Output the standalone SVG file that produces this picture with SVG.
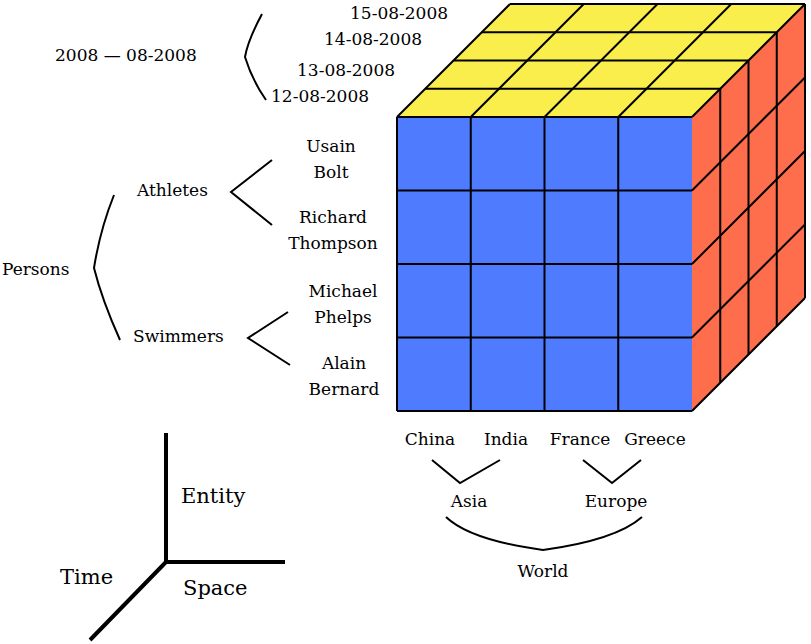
<svg xmlns="http://www.w3.org/2000/svg" width="811" height="644" viewBox="0 0 811 644">
<style>
text{font-family:"DejaVu Serif","Liberation Serif",serif;font-size:17px;fill:#000}
.c{text-anchor:middle}
.big{font-size:21px}
.g{stroke:#000;stroke-width:2;fill:none}
.br{stroke:#000;stroke-width:2;fill:none}
</style>
<rect width="811" height="644" fill="#fff"/>
<g id="cube">
<polygon points="397,117 692,117 805,4 510,4" fill="#F9EE4C"/>
<polygon points="692,117 805,4 805,298 692,411" fill="#FF6E4C"/>
<rect x="397" y="117" width="295" height="294" fill="#4F7BFF"/>
<g class="g">
<path d="M397,117H692M425.25,88.75H720.25M453.5,60.5H748.5M481.75,32.25H776.75M510,4H805"/>
<path d="M397,117L510,4M470.75,117L583.75,4M544.5,117L657.5,4M618.25,117L731.25,4M692,117L805,4"/>
<path d="M397,117V411M470.75,117V411M544.5,117V411M618.25,117V411"/>
<path d="M397,190.5H692M397,264H692M397,337.5H692M397,411H692"/>
<path d="M720.25,88.75V382.75M748.5,60.5V354.5M776.75,32.25V326.25M805,4V298"/>
<path d="M692,190.5L805,77.5M692,264L805,151M692,337.5L805,224.5M692,411L805,298"/>
</g>
</g>
<g id="time-labels">
<text x="350" y="19">15-08-2008</text>
<text x="324" y="45">14-08-2008</text>
<text x="297" y="76">13-08-2008</text>
<text x="271" y="102">12-08-2008</text>
<text x="55" y="61">2008 — 08-2008</text>
</g>
<g id="persons">
<text x="2" y="275">Persons</text>
<text x="137" y="196">Athletes</text>
<text x="133" y="342">Swimmers</text>
<text class="c" x="331" y="152">Usain</text><text class="c" x="331" y="178">Bolt</text>
<text class="c" x="333" y="223">Richard</text><text class="c" x="333" y="249">Thompson</text>
<text class="c" x="343" y="297">Michael</text><text class="c" x="343" y="323">Phelps</text>
<text class="c" x="344" y="369">Alain</text><text class="c" x="344" y="395">Bernard</text>
</g>
<g id="places">
<text class="c" x="430" y="445">China</text>
<text class="c" x="506" y="445">India</text>
<text class="c" x="580" y="445">France</text>
<text class="c" x="655" y="445">Greece</text>
<text class="c" x="469" y="507">Asia</text>
<text class="c" x="616" y="507">Europe</text>
<text class="c" x="543" y="577">World</text>
</g>
<g id="axes">
<path d="M166,433V562H285M166,562L90,640" stroke="#000" stroke-width="4" fill="none"/>
<text class="big" x="181" y="503">Entity</text>
<text class="big" x="60" y="584">Time</text>
<text class="big" x="183" y="595">Space</text>
</g>
<g id="connectors">
<path class="br" d="M262,14Q248,40 245,57Q252,80 266,100"/>
<path class="br" d="M114,195Q100,230 94,268Q102,300 120,340"/>
<path class="br" d="M272,160L231,192L272,225"/>
<path class="br" d="M288,312L248,338L290,365"/>
<path class="br" d="M432,460L460,483L500,460"/>
<path class="br" d="M583,460L612,483L641,460"/>
<path class="br" d="M446,517Q470,540 543,550Q616,540 642,517"/>
</g>
</svg>
